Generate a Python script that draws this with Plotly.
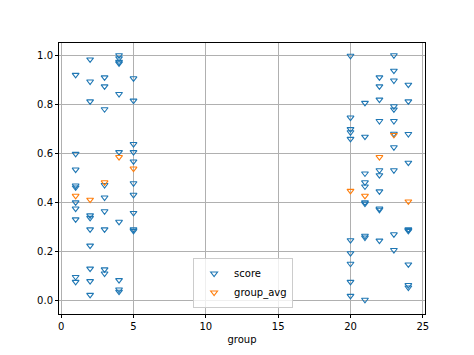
import plotly.graph_objects as go

groups = [1, 2, 3, 4, 5, 20, 21, 22, 23, 24]
scores = {
    1: [0.92, 0.598, 0.534, 0.469, 0.461, 0.40, 0.375, 0.331, 0.096, 0.076],
    2: [0.983, 0.893, 0.812, 0.347, 0.337, 0.29, 0.224, 0.13, 0.079, 0.023],
    3: [0.91, 0.873, 0.78, 0.471, 0.42, 0.364, 0.29, 0.127, 0.11],
    4: [1.0, 0.988, 0.973, 0.967, 0.842, 0.605, 0.321, 0.083, 0.045, 0.036],
    5: [0.906, 0.815, 0.638, 0.605, 0.567, 0.478, 0.431, 0.357, 0.29, 0.284],
    20: [0.998, 0.746, 0.699, 0.686, 0.659, 0.246, 0.193, 0.15, 0.076, 0.019],
    21: [0.806, 0.668, 0.518, 0.482, 0.465, 0.40, 0.395, 0.264, 0.257, 0.003],
    22: [0.91, 0.873, 0.819, 0.732, 0.531, 0.511, 0.445, 0.375, 0.37, 0.244],
    23: [1.0, 0.937, 0.897, 0.792, 0.779, 0.732, 0.68, 0.625, 0.531, 0.27, 0.206],
    24: [0.88, 0.812, 0.679, 0.562, 0.29, 0.287, 0.284, 0.147, 0.063, 0.053],
}
group_avg = [0.427, 0.411, 0.482, 0.585, 0.538, 0.447, 0.427, 0.585, 0.675, 0.404]

score_x = []
score_y = []
for g in groups:
    for v in scores[g]:
        score_x.append(g)
        score_y.append(v)

fig = go.Figure()
fig.add_trace(go.Scatter(
    x=score_x, y=score_y, mode="markers", name="score",
    marker=dict(symbol="triangle-down-open", size=6, color="#1f77b4",
                line=dict(width=1.1, color="#1f77b4")),
))
fig.add_trace(go.Scatter(
    x=groups, y=group_avg, mode="markers", name="group_avg",
    marker=dict(symbol="triangle-down-open", size=6, color="#ff7f0e",
                line=dict(width=1.1, color="#ff7f0e")),
))

font = dict(family="DejaVu Sans", size=10, color="black")
fig.update_layout(
    width=466, height=347,
    margin=dict(l=51, r=49, t=35, b=37),
    paper_bgcolor="white", plot_bgcolor="white",
    font=font,
    showlegend=True,
    legend=dict(
        x=0.503, y=0.022, xanchor="center", yanchor="bottom",
        bgcolor="rgba(255,255,255,0.8)", bordercolor="#cccccc", borderwidth=1,
        font=dict(family="DejaVu Sans", size=10, color="black"),
        tracegroupgap=0, itemwidth=30,
    ),
)
fig.update_xaxes(
    range=[-0.15, 25.15], tickmode="array", tickvals=[0, 5, 10, 15, 20, 25],
    showgrid=True, gridcolor="#b0b0b0", gridwidth=0.7,
    showline=True, linecolor="black", linewidth=1, mirror=True,
    ticks="outside", ticklen=3, tickcolor="black", zeroline=False,
    title=dict(text="group", font=font, standoff=4),
)
fig.update_yaxes(
    range=[-0.055, 1.05], tickmode="array", tickvals=[0, 0.2, 0.4, 0.6, 0.8, 1.0],
    tickformat=".1f",
    showgrid=True, gridcolor="#b0b0b0", gridwidth=0.7,
    showline=True, linecolor="black", linewidth=1, mirror=True,
    ticks="outside", ticklen=3, tickcolor="black", zeroline=False,
)

fig.write_html("out.html")
